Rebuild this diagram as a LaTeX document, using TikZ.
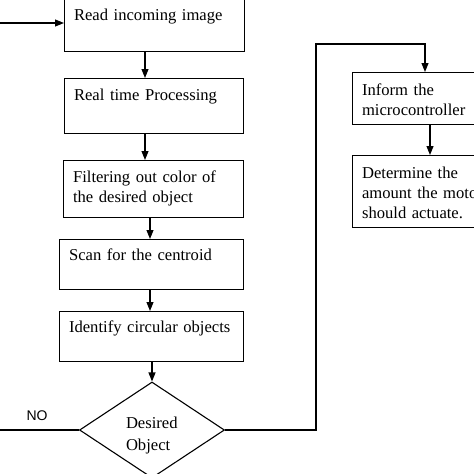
\documentclass[tikz,border=0pt]{standalone}
\usepackage{fontspec}
\setmainfont{Liberation Serif}
\setsansfont{Liberation Sans}
\usetikzlibrary{shapes.geometric,arrows.meta}

\tikzset{
  stepbox/.style={draw, line width=1.1pt, anchor=north west, align=left,
    inner xsep=9.5pt, inner ysep=0pt, font=\fontsize{16.6}{20}\selectfont},
  decision/.style={diamond, draw, line width=1.1pt, minimum width=145pt,
    minimum height=86pt, inner sep=0pt, text width=52pt, align=left,
    text height=20pt, text depth=24pt, font=\fontsize{16.6}{22}\selectfont},
  line/.style={line width=1.1pt},
  arr/.style={line, -{Triangle[length=9pt,width=7pt]}}
}

\begin{document}
\begin{tikzpicture}[x=1pt,y=-1pt]
        \useasboundingbox (0,0) rectangle (474,474);
        \clip (0,0) rectangle (474,474);

        % main column
        \node[stepbox, text width=161pt, text height=21pt, text depth=31pt] (read) at (64,-1) {Read incoming image};
        \node[stepbox, text width=160pt, text height=22pt, text depth=33pt] (proc) at (64,78) {Real time Processing};
        \node[stepbox, text width=161pt, text height=22pt, text depth=35pt] (filter) at (63,160) {Filtering out color of\\the desired object};
        \node[stepbox, text width=165pt, text height=21pt, text depth=29pt] (scan) at (59,239) {Scan for the centroid};
        \node[stepbox, text width=165pt, text height=21pt, text depth=29pt] (ident) at (59,311) {Identify circular objects};
        \node[decision] (dec) at (152,430) {Desired\\Object};

        % right column
        \node[stepbox, text width=181pt, text height=23pt, text depth=29pt] (inform) at (352,72) {Inform the\\microcontroller};
        \node[stepbox, text width=181pt, text height=23pt, text depth=49pt] (motor) at (352,155) {Determine the\\amount the motor\\should actuate.};

        \coordinate (inleft) at (0,23);
        \coordinate (noend) at (0,430);
        \coordinate (turn) at (316,44);

        \draw[arr] (inleft) -- (inleft -| read.west);
        \draw[arr] ([xshift=81pt]read.south west) -- ([xshift=81pt]proc.north west);
        \draw[arr] ([xshift=81pt]proc.south west) -- ([xshift=82pt]filter.north west);
        \draw[arr] ([xshift=87pt]filter.south west) -- ([xshift=91pt]scan.north west);
        \draw[arr] ([xshift=91pt]scan.south west) -- ([xshift=91pt]ident.north west);
        \draw[arr] (ident.south -| dec.north) -- (dec.north);

        \draw[line] (dec.west) -- node[pos=0.53, above=5pt, font=\sffamily\fontsize{14}{16}\selectfont] (no) {NO} (noend);
        \draw[arr] (dec.east) -| (turn) -| ([xshift=73pt]inform.north west);
        \draw[arr] ([xshift=78pt]inform.south west) -- ([xshift=78pt]motor.north west);
\end{tikzpicture}
\end{document}
